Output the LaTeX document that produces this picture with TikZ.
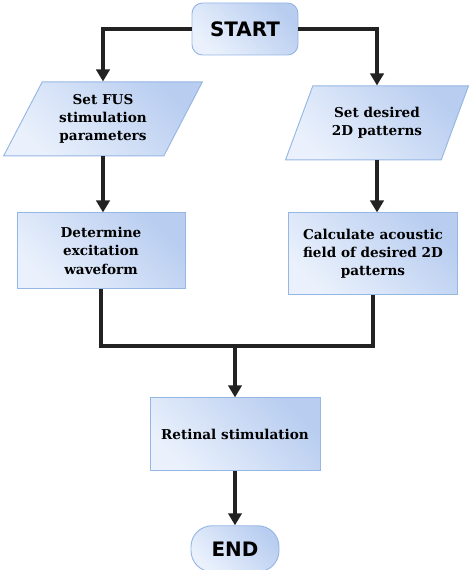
\documentclass[tikz,border=0pt]{standalone}
\usepackage{fontspec}
\setmainfont{DejaVu Serif}
\newfontfamily\termfont{DejaVu Sans}
\usepackage{tikz}
\usetikzlibrary{shapes.geometric, arrows.meta, positioning, calc}
\definecolor{boxedge}{RGB}{150,182,228}
\definecolor{boxlight}{RGB}{234,241,252}
\definecolor{boxdark}{RGB}{184,205,240}
\definecolor{flowdark}{RGB}{34,34,34}
\tikzset{
  shadedbox/.style={top color=boxdark, bottom color=boxlight, shading angle=-45,
    draw=boxedge, line width=0.8pt},
  terminal/.style={shadedbox, rectangle, rounded corners=9pt, align=center,
    font=\termfont\fontsize{17}{20}\selectfont\bfseries},
  process/.style={shadedbox, rectangle, align=center,
    font=\fontsize{11.6}{15.5}\selectfont\bfseries},
  inputbox/.style={shadedbox, trapezium, trapezium left angle=62,
    trapezium right angle=118, trapezium stretches=true, align=center,
    font=\fontsize{11.6}{15.5}\selectfont\bfseries},
  arrow/.style={-{Triangle[length=0.36cm, width=0.4cm]}, line width=3.4pt, color=flowdark},
  line/.style={line width=3.4pt, color=flowdark}
}
\begin{document}
\begin{tikzpicture}
  \useasboundingbox (-7.35,0.87) rectangle (6.87,-16.23);
  % Start
  \node[terminal, minimum width=3.18cm, minimum height=1.56cm] (start) {START};
  % Input branches
  \node[inputbox, minimum width=5.97cm, minimum height=2.22cm,
    below=0.78cm of start, xshift=-4.26cm] (fus) {Set FUS\\stimulation\\parameters};
  \node[inputbox, minimum width=5.49cm, minimum height=2.22cm,
    below=0.9cm of start, xshift=3.96cm] (pat) {Set desired\\2D patterns};
  % Processing
  \node[process, minimum width=5.04cm, minimum height=2.28cm,
    below=1.68cm of fus, xshift=-0.06cm] (wave) {Determine\\excitation\\waveform};
  \node[process, minimum width=5.07cm, minimum height=2.46cm,
    below=1.56cm of pat, xshift=-0.12cm] (field) {Calculate acoustic\\field of desired 2D\\patterns};
  % Stimulation and end
  \node[process, minimum width=5.1cm, minimum height=2.19cm, anchor=north]
    (retina) at ([yshift=-3.24cm, xshift=-0.3cm]wave.south -| start) {Retinal stimulation};
  \node[terminal, rounded corners=18pt, minimum width=2.64cm, minimum height=1.38cm,
    below=1.62cm of retina] (end) {END};
  \coordinate (merge) at ([yshift=-1.71cm]wave.south -| retina);
  % Arrows from start
  \draw[arrow] (start.west) -| (fus.north);
  \draw[arrow] (start.east) -| (pat.north);
  % Arrows down
  \draw[arrow] (fus.south) -- (fus.south |- wave.north);
  \draw[arrow] (pat.south) -- (pat.south |- field.north);
  % Merge
  \draw[line] (wave.south) |- (merge) -| (field.south);
  \draw[arrow] (merge) -- (retina.north);
  \draw[arrow] (retina) -- (end);
\end{tikzpicture}
\end{document}
